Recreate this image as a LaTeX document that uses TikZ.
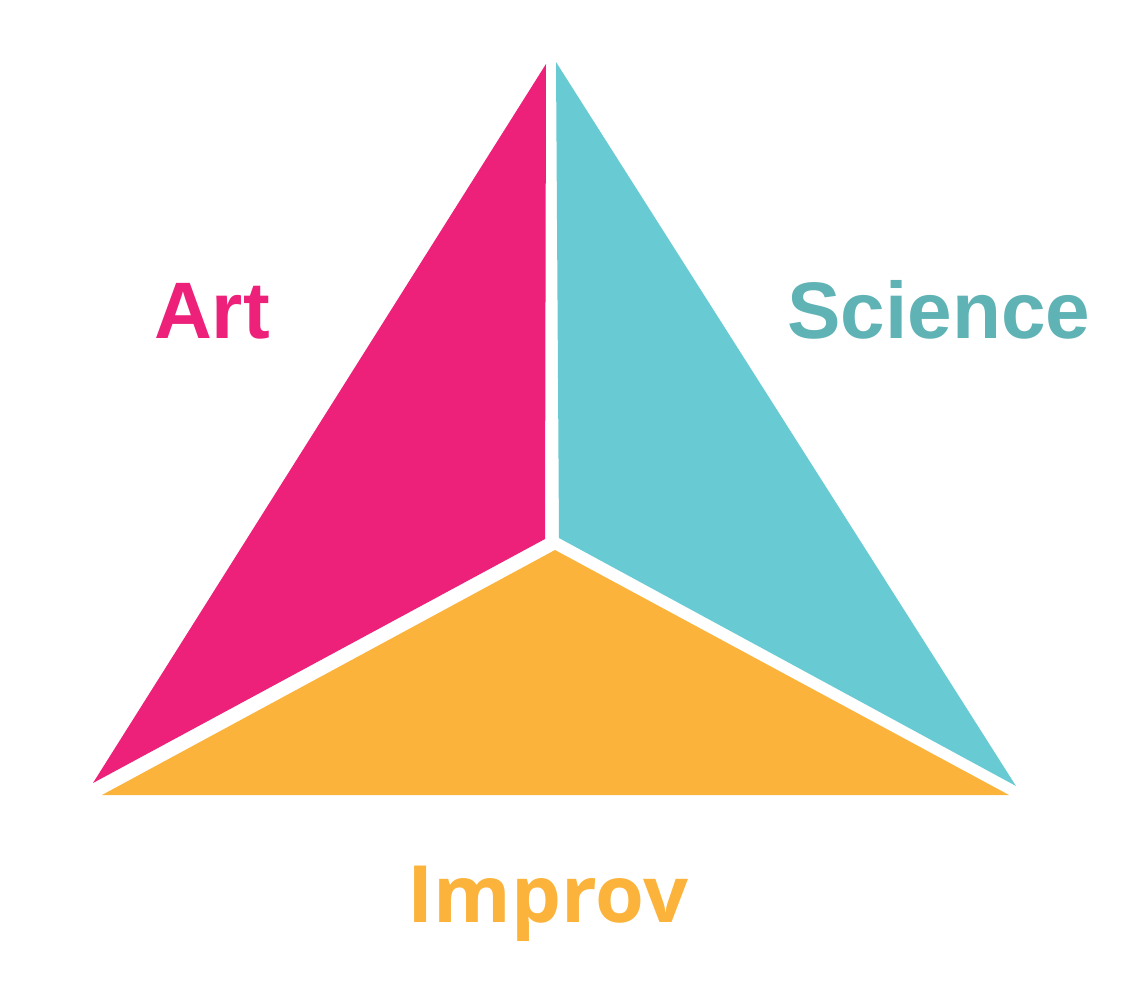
\documentclass[tikz,border=0pt]{standalone}
\usepackage{fontspec}
\setmainfont{Liberation Sans}
\newfontfamily\improvfont{Open Sans}
\usetikzlibrary{positioning}
\definecolor{artpink}{HTML}{ED2179}
\definecolor{scicyan}{HTML}{68CBD3}
\definecolor{sciteal}{HTML}{5FB3B5}
\definecolor{impgold}{HTML}{FBB33B}
\tikzset{
facet/.style  = {draw=none},
label/.style  = {anchor=base, inner sep=0pt, font=\fontsize{22.8pt}{26pt}\selectfont\bfseries},
artlabel/.style = {label, text=artpink},
scilabel/.style = {label, text=sciteal},
implabel/.style = {label, text=impgold, font=\improvfont\fontsize{22.5pt}{26pt}\selectfont\bfseries}
}

\begin{document}
\begin{tikzpicture}
\useasboundingbox (0,0) rectangle (11.42,9.80);

\coordinate (art-top)   at (5.46,9.16);
\coordinate (art-left)  at (0.93,1.97);
\coordinate (art-mid)   at (5.45,4.41);
\coordinate (sci-top)   at (5.56,9.18);
\coordinate (sci-right) at (10.16,1.94);
\coordinate (sci-mid)   at (5.59,4.42);
\coordinate (imp-top)   at (5.55,4.30);
\coordinate (imp-left)  at (1.02,1.85);
\coordinate (imp-right) at (10.09,1.85);

\fill[facet, artpink] (art-top) -- (art-left) -- (art-mid) -- cycle;
\fill[facet, scicyan] (sci-top) -- (sci-mid) -- (sci-right) -- cycle;
\fill[facet, impgold] (imp-top) -- (imp-left) -- (imp-right) -- cycle;

\node[artlabel] (art)     at (2.12,6.42) {Art};
\node[scilabel] (science) at (9.39,6.42) {Science};
\node[implabel] (improv)  at (5.48,0.58) {Improv};
\end{tikzpicture}
\end{document}
